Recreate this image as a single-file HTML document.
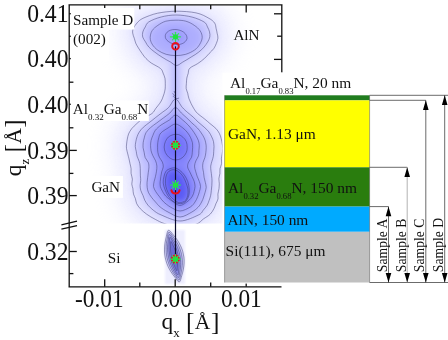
<!DOCTYPE html>
<html><head><meta charset="utf-8"><title>RSM figure</title>
<style>html,body{margin:0;padding:0;background:#fff}svg{display:block}</style></head>
<body>
<svg width="448" height="340" viewBox="0 0 448 340">
<defs>
<filter id="b8" x="-30%" y="-30%" width="160%" height="160%"><feGaussianBlur stdDeviation="7"/></filter>
<filter id="b12" x="-40%" y="-40%" width="180%" height="180%"><feGaussianBlur stdDeviation="10"/></filter>
<filter id="b2" x="-30%" y="-30%" width="160%" height="160%"><feGaussianBlur stdDeviation="3"/></filter>
<filter id="b1" x="-30%" y="-30%" width="160%" height="160%"><feGaussianBlur stdDeviation="1.2"/></filter>
<clipPath id="cpu"><rect x="69" y="5.4" width="212.5" height="218.1"/></clipPath>
<clipPath id="cpl"><rect x="69" y="229" width="212.5" height="57"/></clipPath>
</defs>
<rect width="448" height="340" fill="#fff"/>
<g clip-path="url(#cpu)">
<path d="M176.0 11.2C182.4 11.2 190.7 11.7 196.1 12.9C201.6 14.0 205.7 16.5 208.7 18.2C211.8 19.8 213.4 21.3 214.6 23.0C215.8 24.7 215.7 26.7 216.1 28.5C216.6 30.3 216.9 32.0 217.2 33.6C217.5 35.2 218.1 36.6 217.9 38.2C217.8 39.8 217.0 41.6 216.4 43.3C215.7 45.0 215.0 46.7 213.9 48.4C212.7 50.1 210.8 51.8 209.2 53.4C207.6 55.1 206.4 56.7 204.5 58.4C202.6 60.1 200.2 61.9 197.8 63.5C195.3 65.2 191.3 66.6 189.7 68.3C188.1 69.9 188.6 71.8 188.2 73.4C187.7 75.1 187.1 76.4 186.8 78.1C186.5 79.8 186.5 81.8 186.4 83.5C186.3 85.3 185.9 87.0 186.2 88.6C186.4 90.2 187.2 91.5 187.7 93.2C188.1 94.9 188.3 96.8 188.9 98.5C189.5 100.2 190.2 101.7 191.0 103.4C191.9 105.1 192.9 107.1 193.9 108.7C195.0 110.4 195.6 111.6 197.4 113.3C199.2 115.0 202.4 117.2 204.5 118.9C206.6 120.6 208.1 122.0 210.0 123.6C211.9 125.2 214.3 126.9 215.9 128.5C217.5 130.2 218.5 131.8 219.4 133.5C220.3 135.2 220.8 137.1 221.2 138.7C221.7 140.4 221.9 142.0 222.2 143.6C222.4 145.2 222.8 146.7 222.8 148.4C222.8 150.1 222.4 152.2 222.2 153.9C222.0 155.6 221.5 156.9 221.4 158.6C221.3 160.2 221.8 161.9 221.6 163.6C221.3 165.3 220.3 167.1 220.0 168.7C219.7 170.4 220.1 171.9 219.9 173.5C219.7 175.2 219.0 177.0 218.9 178.7C218.8 180.4 219.3 182.2 219.3 183.8C219.3 185.5 219.2 186.9 219.0 188.6C218.8 190.3 218.1 192.3 217.9 194.0C217.7 195.7 218.3 197.3 218.0 198.9C217.7 200.5 216.6 202.0 215.9 203.7C215.3 205.3 214.8 207.0 213.9 208.7C212.9 210.5 211.9 212.5 210.2 214.2C208.5 215.9 205.9 217.2 203.6 218.8C201.3 220.5 200.2 222.6 196.4 224.1C192.7 225.6 186.3 228.1 181.0 228.0C175.7 227.9 169.0 225.1 164.7 223.7C160.4 222.3 158.2 220.9 155.2 219.3C152.2 217.8 149.3 216.0 146.8 214.3C144.4 212.5 142.1 210.6 140.4 208.8C138.7 207.0 137.5 205.3 136.7 203.6C135.9 201.9 135.9 200.2 135.4 198.6C134.9 197.0 133.9 195.7 133.5 194.1C133.1 192.4 133.1 190.3 132.9 188.6C132.6 187.0 131.9 185.6 131.8 184.1C131.7 182.5 132.5 180.9 132.4 179.2C132.3 177.4 131.3 175.2 131.1 173.5C130.8 171.8 131.3 170.5 131.1 168.8C130.9 167.2 130.4 165.2 130.0 163.6C129.7 161.9 129.3 160.4 129.0 158.8C128.6 157.2 128.2 155.8 127.8 154.1C127.4 152.3 126.7 150.1 126.5 148.5C126.3 146.8 126.4 145.6 126.6 144.0C126.7 142.5 127.0 140.7 127.3 139.0C127.7 137.3 127.9 135.7 128.6 133.9C129.4 132.2 130.3 130.4 131.7 128.7C133.1 127.0 135.0 125.2 136.9 123.5C138.8 121.8 140.6 120.1 143.1 118.5C145.6 116.8 149.8 115.2 152.0 113.5C154.1 111.9 154.5 110.1 155.8 108.4C157.1 106.7 158.7 104.9 159.8 103.3C160.9 101.7 161.6 100.4 162.3 98.8C163.0 97.2 163.6 95.4 164.1 93.7C164.5 92.0 165.0 90.4 165.2 88.8C165.4 87.1 165.3 85.5 165.3 83.7C165.3 82.0 165.3 80.2 165.0 78.4C164.6 76.7 163.9 74.8 163.1 73.1C162.4 71.4 162.5 70.1 160.5 68.5C158.6 66.8 153.8 64.7 151.4 63.1C149.0 61.4 147.6 60.1 146.0 58.5C144.5 57.0 143.4 55.4 142.2 53.6C140.9 51.9 139.6 49.8 138.5 48.1C137.5 46.4 136.5 44.9 135.8 43.3C135.1 41.7 134.9 40.0 134.3 38.3C133.8 36.6 132.8 34.7 132.7 33.1C132.5 31.5 132.6 30.2 133.3 28.5C134.1 26.8 135.5 24.6 137.1 22.9C138.7 21.2 139.6 19.9 143.0 18.3C146.5 16.7 152.1 14.4 157.6 13.2C163.1 12.1 169.6 11.3 176.0 11.2Z" fill="#e2e2ff" stroke="#e2e2ff" stroke-width="42" stroke-linejoin="round" filter="url(#b12)" opacity="0.38"/>
<path d="M176.0 11.2C182.4 11.2 190.7 11.7 196.1 12.9C201.6 14.0 205.7 16.5 208.7 18.2C211.8 19.8 213.4 21.3 214.6 23.0C215.8 24.7 215.7 26.7 216.1 28.5C216.6 30.3 216.9 32.0 217.2 33.6C217.5 35.2 218.1 36.6 217.9 38.2C217.8 39.8 217.0 41.6 216.4 43.3C215.7 45.0 215.0 46.7 213.9 48.4C212.7 50.1 210.8 51.8 209.2 53.4C207.6 55.1 206.4 56.7 204.5 58.4C202.6 60.1 200.2 61.9 197.8 63.5C195.3 65.2 191.3 66.6 189.7 68.3C188.1 69.9 188.6 71.8 188.2 73.4C187.7 75.1 187.1 76.4 186.8 78.1C186.5 79.8 186.5 81.8 186.4 83.5C186.3 85.3 185.9 87.0 186.2 88.6C186.4 90.2 187.2 91.5 187.7 93.2C188.1 94.9 188.3 96.8 188.9 98.5C189.5 100.2 190.2 101.7 191.0 103.4C191.9 105.1 192.9 107.1 193.9 108.7C195.0 110.4 195.6 111.6 197.4 113.3C199.2 115.0 202.4 117.2 204.5 118.9C206.6 120.6 208.1 122.0 210.0 123.6C211.9 125.2 214.3 126.9 215.9 128.5C217.5 130.2 218.5 131.8 219.4 133.5C220.3 135.2 220.8 137.1 221.2 138.7C221.7 140.4 221.9 142.0 222.2 143.6C222.4 145.2 222.8 146.7 222.8 148.4C222.8 150.1 222.4 152.2 222.2 153.9C222.0 155.6 221.5 156.9 221.4 158.6C221.3 160.2 221.8 161.9 221.6 163.6C221.3 165.3 220.3 167.1 220.0 168.7C219.7 170.4 220.1 171.9 219.9 173.5C219.7 175.2 219.0 177.0 218.9 178.7C218.8 180.4 219.3 182.2 219.3 183.8C219.3 185.5 219.2 186.9 219.0 188.6C218.8 190.3 218.1 192.3 217.9 194.0C217.7 195.7 218.3 197.3 218.0 198.9C217.7 200.5 216.6 202.0 215.9 203.7C215.3 205.3 214.8 207.0 213.9 208.7C212.9 210.5 211.9 212.5 210.2 214.2C208.5 215.9 205.9 217.2 203.6 218.8C201.3 220.5 200.2 222.6 196.4 224.1C192.7 225.6 186.3 228.1 181.0 228.0C175.7 227.9 169.0 225.1 164.7 223.7C160.4 222.3 158.2 220.9 155.2 219.3C152.2 217.8 149.3 216.0 146.8 214.3C144.4 212.5 142.1 210.6 140.4 208.8C138.7 207.0 137.5 205.3 136.7 203.6C135.9 201.9 135.9 200.2 135.4 198.6C134.9 197.0 133.9 195.7 133.5 194.1C133.1 192.4 133.1 190.3 132.9 188.6C132.6 187.0 131.9 185.6 131.8 184.1C131.7 182.5 132.5 180.9 132.4 179.2C132.3 177.4 131.3 175.2 131.1 173.5C130.8 171.8 131.3 170.5 131.1 168.8C130.9 167.2 130.4 165.2 130.0 163.6C129.7 161.9 129.3 160.4 129.0 158.8C128.6 157.2 128.2 155.8 127.8 154.1C127.4 152.3 126.7 150.1 126.5 148.5C126.3 146.8 126.4 145.6 126.6 144.0C126.7 142.5 127.0 140.7 127.3 139.0C127.7 137.3 127.9 135.7 128.6 133.9C129.4 132.2 130.3 130.4 131.7 128.7C133.1 127.0 135.0 125.2 136.9 123.5C138.8 121.8 140.6 120.1 143.1 118.5C145.6 116.8 149.8 115.2 152.0 113.5C154.1 111.9 154.5 110.1 155.8 108.4C157.1 106.7 158.7 104.9 159.8 103.3C160.9 101.7 161.6 100.4 162.3 98.8C163.0 97.2 163.6 95.4 164.1 93.7C164.5 92.0 165.0 90.4 165.2 88.8C165.4 87.1 165.3 85.5 165.3 83.7C165.3 82.0 165.3 80.2 165.0 78.4C164.6 76.7 163.9 74.8 163.1 73.1C162.4 71.4 162.5 70.1 160.5 68.5C158.6 66.8 153.8 64.7 151.4 63.1C149.0 61.4 147.6 60.1 146.0 58.5C144.5 57.0 143.4 55.4 142.2 53.6C140.9 51.9 139.6 49.8 138.5 48.1C137.5 46.4 136.5 44.9 135.8 43.3C135.1 41.7 134.9 40.0 134.3 38.3C133.8 36.6 132.8 34.7 132.7 33.1C132.5 31.5 132.6 30.2 133.3 28.5C134.1 26.8 135.5 24.6 137.1 22.9C138.7 21.2 139.6 19.9 143.0 18.3C146.5 16.7 152.1 14.4 157.6 13.2C163.1 12.1 169.6 11.3 176.0 11.2Z" fill="#dadafe" stroke="#dadafe" stroke-width="16" stroke-linejoin="round" filter="url(#b8)" opacity="0.45"/>
<g filter="url(#b2)">
<path d="M176.0 11.2C182.4 11.2 190.7 11.7 196.1 12.9C201.6 14.0 205.7 16.5 208.7 18.2C211.8 19.8 213.4 21.3 214.6 23.0C215.8 24.7 215.7 26.7 216.1 28.5C216.6 30.3 216.9 32.0 217.2 33.6C217.5 35.2 218.1 36.6 217.9 38.2C217.8 39.8 217.0 41.6 216.4 43.3C215.7 45.0 215.0 46.7 213.9 48.4C212.7 50.1 210.8 51.8 209.2 53.4C207.6 55.1 206.4 56.7 204.5 58.4C202.6 60.1 200.2 61.9 197.8 63.5C195.3 65.2 191.3 66.6 189.7 68.3C188.1 69.9 188.6 71.8 188.2 73.4C187.7 75.1 187.1 76.4 186.8 78.1C186.5 79.8 186.5 81.8 186.4 83.5C186.3 85.3 185.9 87.0 186.2 88.6C186.4 90.2 187.2 91.5 187.7 93.2C188.1 94.9 188.3 96.8 188.9 98.5C189.5 100.2 190.2 101.7 191.0 103.4C191.9 105.1 192.9 107.1 193.9 108.7C195.0 110.4 195.6 111.6 197.4 113.3C199.2 115.0 202.4 117.2 204.5 118.9C206.6 120.6 208.1 122.0 210.0 123.6C211.9 125.2 214.3 126.9 215.9 128.5C217.5 130.2 218.5 131.8 219.4 133.5C220.3 135.2 220.8 137.1 221.2 138.7C221.7 140.4 221.9 142.0 222.2 143.6C222.4 145.2 222.8 146.7 222.8 148.4C222.8 150.1 222.4 152.2 222.2 153.9C222.0 155.6 221.5 156.9 221.4 158.6C221.3 160.2 221.8 161.9 221.6 163.6C221.3 165.3 220.3 167.1 220.0 168.7C219.7 170.4 220.1 171.9 219.9 173.5C219.7 175.2 219.0 177.0 218.9 178.7C218.8 180.4 219.3 182.2 219.3 183.8C219.3 185.5 219.2 186.9 219.0 188.6C218.8 190.3 218.1 192.3 217.9 194.0C217.7 195.7 218.3 197.3 218.0 198.9C217.7 200.5 216.6 202.0 215.9 203.7C215.3 205.3 214.8 207.0 213.9 208.7C212.9 210.5 211.9 212.5 210.2 214.2C208.5 215.9 205.9 217.2 203.6 218.8C201.3 220.5 200.2 222.6 196.4 224.1C192.7 225.6 186.3 228.1 181.0 228.0C175.7 227.9 169.0 225.1 164.7 223.7C160.4 222.3 158.2 220.9 155.2 219.3C152.2 217.8 149.3 216.0 146.8 214.3C144.4 212.5 142.1 210.6 140.4 208.8C138.7 207.0 137.5 205.3 136.7 203.6C135.9 201.9 135.9 200.2 135.4 198.6C134.9 197.0 133.9 195.7 133.5 194.1C133.1 192.4 133.1 190.3 132.9 188.6C132.6 187.0 131.9 185.6 131.8 184.1C131.7 182.5 132.5 180.9 132.4 179.2C132.3 177.4 131.3 175.2 131.1 173.5C130.8 171.8 131.3 170.5 131.1 168.8C130.9 167.2 130.4 165.2 130.0 163.6C129.7 161.9 129.3 160.4 129.0 158.8C128.6 157.2 128.2 155.8 127.8 154.1C127.4 152.3 126.7 150.1 126.5 148.5C126.3 146.8 126.4 145.6 126.6 144.0C126.7 142.5 127.0 140.7 127.3 139.0C127.7 137.3 127.9 135.7 128.6 133.9C129.4 132.2 130.3 130.4 131.7 128.7C133.1 127.0 135.0 125.2 136.9 123.5C138.8 121.8 140.6 120.1 143.1 118.5C145.6 116.8 149.8 115.2 152.0 113.5C154.1 111.9 154.5 110.1 155.8 108.4C157.1 106.7 158.7 104.9 159.8 103.3C160.9 101.7 161.6 100.4 162.3 98.8C163.0 97.2 163.6 95.4 164.1 93.7C164.5 92.0 165.0 90.4 165.2 88.8C165.4 87.1 165.3 85.5 165.3 83.7C165.3 82.0 165.3 80.2 165.0 78.4C164.6 76.7 163.9 74.8 163.1 73.1C162.4 71.4 162.5 70.1 160.5 68.5C158.6 66.8 153.8 64.7 151.4 63.1C149.0 61.4 147.6 60.1 146.0 58.5C144.5 57.0 143.4 55.4 142.2 53.6C140.9 51.9 139.6 49.8 138.5 48.1C137.5 46.4 136.5 44.9 135.8 43.3C135.1 41.7 134.9 40.0 134.3 38.3C133.8 36.6 132.8 34.7 132.7 33.1C132.5 31.5 132.6 30.2 133.3 28.5C134.1 26.8 135.5 24.6 137.1 22.9C138.7 21.2 139.6 19.9 143.0 18.3C146.5 16.7 152.1 14.4 157.6 13.2C163.1 12.1 169.6 11.3 176.0 11.2Z" fill="#dbdbfe"/>
<path d="M175.5 52V112" stroke="#bcbcfd" stroke-width="9" stroke-linecap="round" fill="none"/>
<path d="M176.0 15.0C181.2 15.0 187.5 15.9 192.1 17.1C196.8 18.3 201.5 20.4 204.1 22.0C206.7 23.6 206.6 25.3 207.5 27.0C208.4 28.6 209.1 30.2 209.5 31.9C209.9 33.5 210.1 35.3 209.8 36.9C209.5 38.6 208.6 40.2 207.7 41.9C206.7 43.6 205.5 45.3 204.0 47.1C202.5 48.8 200.9 50.5 198.7 52.1C196.6 53.8 193.9 55.4 191.2 57.0C188.6 58.7 185.2 60.7 182.7 62.1C180.3 63.5 178.6 65.5 176.5 65.5C174.4 65.5 172.7 63.3 170.3 61.9C167.8 60.5 164.5 58.8 162.0 57.1C159.4 55.5 157.0 53.8 154.8 52.1C152.6 50.5 150.4 48.8 148.9 47.1C147.3 45.4 146.5 43.6 145.5 41.9C144.5 40.2 143.2 38.6 142.7 37.0C142.3 35.3 142.4 33.6 142.8 32.0C143.2 30.3 144.3 28.6 145.3 26.9C146.3 25.3 146.1 23.6 148.8 21.9C151.4 20.3 156.6 18.1 161.2 17.0C165.7 15.8 170.8 15.0 176.0 15.0Z" fill="#c2c2fe"/>
<path d="M175.5 99.0C177.8 99.0 180.2 105.2 182.3 107.4C184.3 109.7 185.7 110.8 187.5 112.4C189.4 114.0 191.5 115.6 193.3 117.2C195.0 118.8 196.3 120.4 198.1 122.0C199.9 123.7 202.3 125.4 204.1 127.1C205.9 128.7 207.6 130.3 208.9 131.9C210.1 133.5 210.9 135.2 211.7 136.9C212.5 138.5 213.1 140.0 213.5 141.7C213.8 143.3 213.9 145.0 214.0 146.7C214.0 148.3 213.8 150.0 213.7 151.6C213.6 153.2 213.6 154.6 213.3 156.3C213.0 157.9 212.4 159.7 211.9 161.3C211.5 163.0 210.8 164.5 210.7 166.1C210.5 167.7 210.9 169.5 211.0 171.2C211.2 172.8 211.5 174.2 211.6 175.9C211.8 177.5 212.0 179.3 212.0 180.9C212.0 182.5 211.9 184.0 211.8 185.7C211.7 187.3 211.5 189.0 211.3 190.7C211.1 192.4 211.0 194.0 210.6 195.6C210.3 197.2 209.7 198.8 209.1 200.4C208.5 202.0 208.1 203.6 207.1 205.3C206.1 206.9 204.7 208.5 203.3 210.1C201.9 211.7 202.5 213.0 198.6 214.9C194.7 216.7 186.3 221.0 180.0 221.0C173.7 221.0 165.5 216.7 161.1 214.9C156.6 213.1 155.5 211.8 153.3 210.2C151.1 208.5 149.4 206.8 148.0 205.2C146.6 203.5 145.7 201.9 144.8 200.3C144.0 198.7 143.8 197.3 143.1 195.6C142.4 193.9 141.2 192.1 140.8 190.4C140.3 188.7 140.1 187.2 140.1 185.5C140.1 183.9 140.7 182.2 140.7 180.6C140.8 179.0 140.5 177.5 140.4 175.9C140.4 174.3 140.4 172.7 140.3 171.0C140.3 169.4 140.3 167.7 140.1 166.0C140.0 164.4 139.7 163.0 139.2 161.4C138.7 159.7 137.6 157.8 137.1 156.2C136.6 154.5 136.6 153.2 136.3 151.6C136.0 150.0 135.4 148.3 135.3 146.7C135.2 145.1 135.5 143.5 135.8 141.8C136.1 140.2 136.5 138.3 137.1 136.7C137.7 135.1 138.2 133.6 139.3 132.0C140.3 130.5 141.7 128.8 143.4 127.2C145.2 125.5 147.9 123.7 149.9 122.1C152.0 120.5 153.7 119.1 155.8 117.4C157.8 115.8 160.1 114.1 162.3 112.4C164.5 110.7 166.5 109.7 168.7 107.4C170.9 105.2 173.2 99.0 175.5 99.0Z" fill="#c2c2fe"/>
<path d="M202.2 37.4C202.1 39.7 201.0 42.1 199.8 44.2C198.5 46.3 197.0 48.4 194.6 50.0C192.3 51.7 188.8 53.3 185.7 54.3C182.5 55.2 179.0 55.6 175.8 55.6C172.5 55.6 169.1 55.1 166.2 54.3C163.2 53.4 160.2 51.9 157.9 50.3C155.6 48.6 153.4 46.3 152.2 44.2C150.9 42.1 150.2 40.0 150.2 37.7C150.2 35.5 150.8 32.7 152.1 30.7C153.4 28.6 155.5 27.0 157.8 25.4C160.0 23.9 162.7 22.1 165.8 21.2C168.8 20.4 172.7 20.2 176.0 20.2C179.4 20.2 182.8 20.3 185.8 21.2C188.8 22.0 191.8 23.6 194.2 25.3C196.6 26.9 198.9 28.8 200.2 30.9C201.5 32.9 202.2 35.2 202.2 37.4Z" fill="#aeaefe"/>
<path d="M175.5 107.5C177.4 107.5 179.4 111.2 181.3 113.0C183.2 114.7 185.0 116.4 186.8 118.0C188.5 119.7 190.1 121.4 191.9 123.0C193.6 124.7 195.8 126.2 197.3 127.9C198.9 129.5 200.0 131.3 201.2 132.9C202.3 134.5 203.3 136.1 204.1 137.8C204.9 139.4 205.4 141.1 205.7 142.8C206.1 144.4 206.2 146.0 206.2 147.6C206.2 149.3 206.0 151.1 205.8 152.7C205.6 154.4 205.4 155.8 204.9 157.5C204.5 159.1 203.4 160.9 203.0 162.6C202.6 164.3 202.6 166.0 202.7 167.6C202.7 169.2 203.3 170.7 203.5 172.3C203.8 173.9 203.8 175.6 204.1 177.3C204.4 179.0 205.0 180.7 205.3 182.4C205.7 184.0 206.2 185.7 206.2 187.4C206.1 189.0 205.5 190.7 205.1 192.3C204.7 193.9 204.2 195.5 203.6 197.1C203.0 198.7 202.6 200.3 201.6 202.0C200.7 203.6 199.8 205.5 198.1 207.2C196.5 208.8 194.9 210.3 191.9 212.0C188.9 213.6 184.0 217.0 180.0 217.0C176.0 217.0 171.3 213.6 168.0 212.0C164.7 210.3 162.2 208.6 160.1 206.9C158.0 205.3 157.0 203.6 155.5 202.0C154.1 200.4 152.7 198.9 151.5 197.3C150.3 195.6 149.1 193.9 148.4 192.3C147.7 190.6 147.4 189.1 147.2 187.4C147.0 185.7 147.0 183.9 147.1 182.2C147.2 180.6 147.5 179.0 147.7 177.4C147.9 175.7 148.0 174.0 148.3 172.3C148.5 170.7 148.9 169.2 148.9 167.5C148.9 165.9 149.0 164.2 148.3 162.5C147.7 160.9 145.9 159.3 145.2 157.6C144.5 156.0 144.6 154.2 144.2 152.5C143.9 150.8 143.3 149.3 143.1 147.7C143.0 146.1 143.0 144.3 143.2 142.7C143.4 141.1 143.8 139.5 144.3 137.8C144.7 136.2 145.0 134.4 146.0 132.7C147.0 131.0 148.6 129.5 150.3 127.8C152.1 126.2 154.6 124.5 156.8 122.9C159.0 121.3 161.3 119.6 163.5 117.9C165.7 116.3 167.9 114.7 169.9 113.0C171.9 111.2 173.6 107.5 175.5 107.5Z" fill="#aeaefe"/>
<path d="M187.0 38.6C186.9 39.6 186.1 40.7 185.3 41.5C184.5 42.4 183.4 43.2 182.1 43.7C180.8 44.3 179.0 44.6 177.5 44.6C175.9 44.6 174.4 44.3 173.0 43.9C171.5 43.4 169.8 42.5 168.7 41.7C167.5 40.9 166.5 39.9 165.9 38.9C165.4 37.9 165.1 36.7 165.3 35.6C165.4 34.5 166.2 33.2 167.1 32.2C168.0 31.3 169.2 30.7 170.5 30.2C171.8 29.7 173.4 29.5 174.9 29.5C176.4 29.5 178.1 29.7 179.5 30.2C181.0 30.6 182.7 31.4 183.8 32.3C184.9 33.1 185.7 34.2 186.3 35.2C186.8 36.3 187.2 37.5 187.0 38.6Z" fill="#9b9bfd"/>
<path d="M175.5 115.0C177.7 115.0 180.4 118.2 182.5 119.9C184.6 121.6 186.6 123.4 188.2 125.1C189.8 126.8 191.1 128.5 192.4 130.2C193.7 131.9 194.8 133.7 195.8 135.4C196.8 137.2 197.8 138.9 198.4 140.6C199.0 142.3 199.2 143.9 199.3 145.5C199.3 147.2 199.0 148.9 198.9 150.6C198.7 152.3 199.0 154.2 198.5 155.9C198.0 157.6 196.5 159.1 195.9 160.8C195.2 162.6 194.5 164.4 194.5 166.1C194.4 167.9 195.2 169.6 195.6 171.3C196.1 172.9 196.5 174.5 197.1 176.2C197.7 177.9 198.7 179.6 199.2 181.3C199.8 183.0 200.5 184.8 200.5 186.5C200.5 188.3 199.8 189.9 199.4 191.6C198.9 193.3 198.5 194.9 197.7 196.6C197.0 198.4 196.2 200.3 195.0 202.0C193.8 203.7 192.8 205.5 190.3 207.0C187.8 208.5 183.3 211.0 180.0 211.0C176.7 211.0 173.0 208.4 170.2 206.9C167.5 205.3 165.4 203.5 163.6 201.8C161.8 200.2 160.8 198.4 159.5 196.7C158.2 195.0 156.7 193.3 155.8 191.7C154.8 190.0 153.8 188.3 153.5 186.6C153.3 184.9 153.9 183.0 154.2 181.3C154.6 179.6 155.2 178.0 155.5 176.3C155.9 174.6 156.3 172.9 156.5 171.2C156.7 169.5 157.0 167.9 156.9 166.1C156.8 164.4 156.3 162.6 155.6 160.8C154.9 159.1 153.6 157.4 152.9 155.7C152.1 154.0 151.5 152.5 151.1 150.8C150.8 149.1 150.6 147.4 150.6 145.6C150.6 143.9 150.7 142.1 151.1 140.4C151.5 138.7 152.2 137.1 152.9 135.4C153.6 133.7 154.1 131.9 155.4 130.2C156.8 128.5 158.8 126.7 161.1 125.0C163.4 123.3 166.9 121.7 169.3 120.1C171.7 118.4 173.3 115.0 175.5 115.0Z" fill="#9b9bfd"/>
<path d="M175.5 124.0C178.0 124.0 181.0 126.6 183.0 128.1C185.0 129.6 186.4 131.3 187.7 132.9C188.9 134.5 189.8 136.0 190.6 137.7C191.3 139.3 192.0 141.0 192.4 142.6C192.7 144.3 192.6 145.9 192.6 147.5C192.6 149.1 192.5 150.7 192.3 152.3C192.1 153.9 192.1 155.7 191.5 157.3C190.8 158.9 189.2 160.4 188.6 162.1C187.9 163.7 187.4 165.3 187.6 166.9C187.8 168.5 188.9 170.1 189.7 171.7C190.4 173.3 191.3 175.0 192.0 176.6C192.8 178.2 193.7 179.9 194.2 181.5C194.7 183.2 195.0 184.8 195.0 186.4C195.0 188.0 194.5 189.7 194.1 191.3C193.7 192.9 193.4 194.5 192.4 196.1C191.4 197.7 190.2 199.4 188.1 201.0C186.0 202.5 182.7 205.5 180.0 205.5C177.3 205.5 174.3 202.5 171.9 200.9C169.5 199.3 167.3 197.7 165.8 196.1C164.2 194.5 163.4 192.9 162.5 191.3C161.6 189.7 160.7 187.9 160.3 186.3C159.9 184.7 160.1 183.2 160.2 181.6C160.3 180.0 160.6 178.3 160.8 176.7C161.1 175.0 161.3 173.4 161.7 171.8C162.1 170.2 163.1 168.6 163.3 166.9C163.4 165.3 163.0 163.7 162.4 162.1C161.7 160.4 160.1 158.8 159.4 157.2C158.6 155.6 158.2 154.0 157.9 152.4C157.6 150.8 157.6 149.1 157.6 147.5C157.6 145.9 157.6 144.2 157.8 142.6C158.0 141.0 158.3 139.3 158.8 137.7C159.3 136.1 159.3 134.6 160.9 133.0C162.4 131.3 165.6 129.5 168.0 128.0C170.5 126.5 173.0 124.0 175.5 124.0Z" fill="#8686fc"/>
<path d="M187.2 147.4C187.2 149.2 187.0 151.1 186.2 152.7C185.5 154.3 184.2 156.1 182.9 157.2C181.6 158.4 180.0 159.2 178.4 159.6C176.8 160.0 174.7 160.0 173.0 159.6C171.4 159.1 170.0 158.2 168.7 157.1C167.5 155.9 166.2 154.3 165.4 152.6C164.7 151.0 164.2 148.9 164.2 147.1C164.2 145.2 164.7 143.2 165.4 141.5C166.1 139.8 167.2 138.2 168.4 137.0C169.7 135.9 171.5 135.1 173.1 134.7C174.7 134.3 176.5 134.1 178.2 134.5C179.8 134.9 181.6 136.0 182.9 137.2C184.3 138.3 185.5 139.8 186.2 141.5C186.9 143.2 187.2 145.5 187.2 147.4Z" fill="#7373fa"/>
<path d="M187.8 181.7C188.6 184.0 189.0 186.7 189.2 189.0C189.4 191.2 189.3 193.2 188.9 195.1C188.4 197.0 187.7 198.9 186.7 200.3C185.6 201.6 184.3 202.8 182.8 203.3C181.3 203.8 179.4 203.8 177.7 203.4C176.0 203.1 174.5 202.3 172.9 201.1C171.4 199.9 169.7 198.3 168.4 196.4C167.1 194.6 166.0 192.2 165.2 190.0C164.3 187.7 163.4 185.2 163.2 182.9C163.0 180.7 163.5 178.5 164.0 176.6C164.4 174.6 165.0 172.5 166.1 171.1C167.1 169.8 168.6 169.2 170.1 168.7C171.6 168.1 173.3 167.6 175.0 167.9C176.6 168.2 178.2 169.2 179.8 170.4C181.3 171.6 183.1 173.2 184.4 175.1C185.7 177.0 187.0 179.4 187.8 181.7Z" fill="#7373fa"/>
<path d="M186.0 182.8C186.7 184.8 187.6 187.0 187.9 189.0C188.2 191.1 188.1 193.3 187.8 195.2C187.4 197.0 186.7 198.8 185.9 200.0C185.0 201.2 184.0 201.7 182.7 202.1C181.4 202.5 179.7 202.9 178.3 202.5C176.9 202.1 175.6 201.0 174.2 199.9C172.8 198.8 171.1 197.5 169.9 195.8C168.7 194.1 167.6 191.7 166.8 189.6C166.1 187.6 165.6 185.4 165.4 183.3C165.3 181.2 165.5 178.8 165.9 177.1C166.2 175.3 166.8 173.9 167.6 172.7C168.5 171.6 169.6 170.5 170.9 170.1C172.1 169.6 173.7 169.5 175.0 169.9C176.4 170.2 177.8 171.0 179.2 172.2C180.6 173.3 182.2 175.0 183.3 176.8C184.5 178.6 185.2 180.8 186.0 182.8Z" fill="#5b5bf4"/>
</g>
<g fill="none" stroke="#34346a" stroke-width="0.6" stroke-opacity="0.8">
<path d="M176.0 11.2C182.4 11.2 190.7 11.7 196.1 12.9C201.6 14.0 205.7 16.5 208.7 18.2C211.8 19.8 213.4 21.3 214.6 23.0C215.8 24.7 215.7 26.7 216.1 28.5C216.6 30.3 216.9 32.0 217.2 33.6C217.5 35.2 218.1 36.6 217.9 38.2C217.8 39.8 217.0 41.6 216.4 43.3C215.7 45.0 215.0 46.7 213.9 48.4C212.7 50.1 210.8 51.8 209.2 53.4C207.6 55.1 206.4 56.7 204.5 58.4C202.6 60.1 200.2 61.9 197.8 63.5C195.3 65.2 191.3 66.6 189.7 68.3C188.1 69.9 188.6 71.8 188.2 73.4C187.7 75.1 187.1 76.4 186.8 78.1C186.5 79.8 186.5 81.8 186.4 83.5C186.3 85.3 185.9 87.0 186.2 88.6C186.4 90.2 187.2 91.5 187.7 93.2C188.1 94.9 188.3 96.8 188.9 98.5C189.5 100.2 190.2 101.7 191.0 103.4C191.9 105.1 192.9 107.1 193.9 108.7C195.0 110.4 195.6 111.6 197.4 113.3C199.2 115.0 202.4 117.2 204.5 118.9C206.6 120.6 208.1 122.0 210.0 123.6C211.9 125.2 214.3 126.9 215.9 128.5C217.5 130.2 218.5 131.8 219.4 133.5C220.3 135.2 220.8 137.1 221.2 138.7C221.7 140.4 221.9 142.0 222.2 143.6C222.4 145.2 222.8 146.7 222.8 148.4C222.8 150.1 222.4 152.2 222.2 153.9C222.0 155.6 221.5 156.9 221.4 158.6C221.3 160.2 221.8 161.9 221.6 163.6C221.3 165.3 220.3 167.1 220.0 168.7C219.7 170.4 220.1 171.9 219.9 173.5C219.7 175.2 219.0 177.0 218.9 178.7C218.8 180.4 219.3 182.2 219.3 183.8C219.3 185.5 219.2 186.9 219.0 188.6C218.8 190.3 218.1 192.3 217.9 194.0C217.7 195.7 218.3 197.3 218.0 198.9C217.7 200.5 216.6 202.0 215.9 203.7C215.3 205.3 214.8 207.0 213.9 208.7C212.9 210.5 211.9 212.5 210.2 214.2C208.5 215.9 205.9 217.2 203.6 218.8C201.3 220.5 200.2 222.6 196.4 224.1C192.7 225.6 186.3 228.1 181.0 228.0C175.7 227.9 169.0 225.1 164.7 223.7C160.4 222.3 158.2 220.9 155.2 219.3C152.2 217.8 149.3 216.0 146.8 214.3C144.4 212.5 142.1 210.6 140.4 208.8C138.7 207.0 137.5 205.3 136.7 203.6C135.9 201.9 135.9 200.2 135.4 198.6C134.9 197.0 133.9 195.7 133.5 194.1C133.1 192.4 133.1 190.3 132.9 188.6C132.6 187.0 131.9 185.6 131.8 184.1C131.7 182.5 132.5 180.9 132.4 179.2C132.3 177.4 131.3 175.2 131.1 173.5C130.8 171.8 131.3 170.5 131.1 168.8C130.9 167.2 130.4 165.2 130.0 163.6C129.7 161.9 129.3 160.4 129.0 158.8C128.6 157.2 128.2 155.8 127.8 154.1C127.4 152.3 126.7 150.1 126.5 148.5C126.3 146.8 126.4 145.6 126.6 144.0C126.7 142.5 127.0 140.7 127.3 139.0C127.7 137.3 127.9 135.7 128.6 133.9C129.4 132.2 130.3 130.4 131.7 128.7C133.1 127.0 135.0 125.2 136.9 123.5C138.8 121.8 140.6 120.1 143.1 118.5C145.6 116.8 149.8 115.2 152.0 113.5C154.1 111.9 154.5 110.1 155.8 108.4C157.1 106.7 158.7 104.9 159.8 103.3C160.9 101.7 161.6 100.4 162.3 98.8C163.0 97.2 163.6 95.4 164.1 93.7C164.5 92.0 165.0 90.4 165.2 88.8C165.4 87.1 165.3 85.5 165.3 83.7C165.3 82.0 165.3 80.2 165.0 78.4C164.6 76.7 163.9 74.8 163.1 73.1C162.4 71.4 162.5 70.1 160.5 68.5C158.6 66.8 153.8 64.7 151.4 63.1C149.0 61.4 147.6 60.1 146.0 58.5C144.5 57.0 143.4 55.4 142.2 53.6C140.9 51.9 139.6 49.8 138.5 48.1C137.5 46.4 136.5 44.9 135.8 43.3C135.1 41.7 134.9 40.0 134.3 38.3C133.8 36.6 132.8 34.7 132.7 33.1C132.5 31.5 132.6 30.2 133.3 28.5C134.1 26.8 135.5 24.6 137.1 22.9C138.7 21.2 139.6 19.9 143.0 18.3C146.5 16.7 152.1 14.4 157.6 13.2C163.1 12.1 169.6 11.3 176.0 11.2Z"/>
<path d="M176.0 15.0C181.2 15.0 187.5 15.9 192.1 17.1C196.8 18.3 201.5 20.4 204.1 22.0C206.7 23.6 206.6 25.3 207.5 27.0C208.4 28.6 209.1 30.2 209.5 31.9C209.9 33.5 210.1 35.3 209.8 36.9C209.5 38.6 208.6 40.2 207.7 41.9C206.7 43.6 205.5 45.3 204.0 47.1C202.5 48.8 200.9 50.5 198.7 52.1C196.6 53.8 193.9 55.4 191.2 57.0C188.6 58.7 185.2 60.7 182.7 62.1C180.3 63.5 178.6 65.5 176.5 65.5C174.4 65.5 172.7 63.3 170.3 61.9C167.8 60.5 164.5 58.8 162.0 57.1C159.4 55.5 157.0 53.8 154.8 52.1C152.6 50.5 150.4 48.8 148.9 47.1C147.3 45.4 146.5 43.6 145.5 41.9C144.5 40.2 143.2 38.6 142.7 37.0C142.3 35.3 142.4 33.6 142.8 32.0C143.2 30.3 144.3 28.6 145.3 26.9C146.3 25.3 146.1 23.6 148.8 21.9C151.4 20.3 156.6 18.1 161.2 17.0C165.7 15.8 170.8 15.0 176.0 15.0Z"/>
<path d="M175.5 99.0C177.8 99.0 180.2 105.2 182.3 107.4C184.3 109.7 185.7 110.8 187.5 112.4C189.4 114.0 191.5 115.6 193.3 117.2C195.0 118.8 196.3 120.4 198.1 122.0C199.9 123.7 202.3 125.4 204.1 127.1C205.9 128.7 207.6 130.3 208.9 131.9C210.1 133.5 210.9 135.2 211.7 136.9C212.5 138.5 213.1 140.0 213.5 141.7C213.8 143.3 213.9 145.0 214.0 146.7C214.0 148.3 213.8 150.0 213.7 151.6C213.6 153.2 213.6 154.6 213.3 156.3C213.0 157.9 212.4 159.7 211.9 161.3C211.5 163.0 210.8 164.5 210.7 166.1C210.5 167.7 210.9 169.5 211.0 171.2C211.2 172.8 211.5 174.2 211.6 175.9C211.8 177.5 212.0 179.3 212.0 180.9C212.0 182.5 211.9 184.0 211.8 185.7C211.7 187.3 211.5 189.0 211.3 190.7C211.1 192.4 211.0 194.0 210.6 195.6C210.3 197.2 209.7 198.8 209.1 200.4C208.5 202.0 208.1 203.6 207.1 205.3C206.1 206.9 204.7 208.5 203.3 210.1C201.9 211.7 202.5 213.0 198.6 214.9C194.7 216.7 186.3 221.0 180.0 221.0C173.7 221.0 165.5 216.7 161.1 214.9C156.6 213.1 155.5 211.8 153.3 210.2C151.1 208.5 149.4 206.8 148.0 205.2C146.6 203.5 145.7 201.9 144.8 200.3C144.0 198.7 143.8 197.3 143.1 195.6C142.4 193.9 141.2 192.1 140.8 190.4C140.3 188.7 140.1 187.2 140.1 185.5C140.1 183.9 140.7 182.2 140.7 180.6C140.8 179.0 140.5 177.5 140.4 175.9C140.4 174.3 140.4 172.7 140.3 171.0C140.3 169.4 140.3 167.7 140.1 166.0C140.0 164.4 139.7 163.0 139.2 161.4C138.7 159.7 137.6 157.8 137.1 156.2C136.6 154.5 136.6 153.2 136.3 151.6C136.0 150.0 135.4 148.3 135.3 146.7C135.2 145.1 135.5 143.5 135.8 141.8C136.1 140.2 136.5 138.3 137.1 136.7C137.7 135.1 138.2 133.6 139.3 132.0C140.3 130.5 141.7 128.8 143.4 127.2C145.2 125.5 147.9 123.7 149.9 122.1C152.0 120.5 153.7 119.1 155.8 117.4C157.8 115.8 160.1 114.1 162.3 112.4C164.5 110.7 166.5 109.7 168.7 107.4C170.9 105.2 173.2 99.0 175.5 99.0Z"/>
<path d="M202.2 37.4C202.1 39.7 201.0 42.1 199.8 44.2C198.5 46.3 197.0 48.4 194.6 50.0C192.3 51.7 188.8 53.3 185.7 54.3C182.5 55.2 179.0 55.6 175.8 55.6C172.5 55.6 169.1 55.1 166.2 54.3C163.2 53.4 160.2 51.9 157.9 50.3C155.6 48.6 153.4 46.3 152.2 44.2C150.9 42.1 150.2 40.0 150.2 37.7C150.2 35.5 150.8 32.7 152.1 30.7C153.4 28.6 155.5 27.0 157.8 25.4C160.0 23.9 162.7 22.1 165.8 21.2C168.8 20.4 172.7 20.2 176.0 20.2C179.4 20.2 182.8 20.3 185.8 21.2C188.8 22.0 191.8 23.6 194.2 25.3C196.6 26.9 198.9 28.8 200.2 30.9C201.5 32.9 202.2 35.2 202.2 37.4Z"/>
<path d="M175.5 107.5C177.4 107.5 179.4 111.2 181.3 113.0C183.2 114.7 185.0 116.4 186.8 118.0C188.5 119.7 190.1 121.4 191.9 123.0C193.6 124.7 195.8 126.2 197.3 127.9C198.9 129.5 200.0 131.3 201.2 132.9C202.3 134.5 203.3 136.1 204.1 137.8C204.9 139.4 205.4 141.1 205.7 142.8C206.1 144.4 206.2 146.0 206.2 147.6C206.2 149.3 206.0 151.1 205.8 152.7C205.6 154.4 205.4 155.8 204.9 157.5C204.5 159.1 203.4 160.9 203.0 162.6C202.6 164.3 202.6 166.0 202.7 167.6C202.7 169.2 203.3 170.7 203.5 172.3C203.8 173.9 203.8 175.6 204.1 177.3C204.4 179.0 205.0 180.7 205.3 182.4C205.7 184.0 206.2 185.7 206.2 187.4C206.1 189.0 205.5 190.7 205.1 192.3C204.7 193.9 204.2 195.5 203.6 197.1C203.0 198.7 202.6 200.3 201.6 202.0C200.7 203.6 199.8 205.5 198.1 207.2C196.5 208.8 194.9 210.3 191.9 212.0C188.9 213.6 184.0 217.0 180.0 217.0C176.0 217.0 171.3 213.6 168.0 212.0C164.7 210.3 162.2 208.6 160.1 206.9C158.0 205.3 157.0 203.6 155.5 202.0C154.1 200.4 152.7 198.9 151.5 197.3C150.3 195.6 149.1 193.9 148.4 192.3C147.7 190.6 147.4 189.1 147.2 187.4C147.0 185.7 147.0 183.9 147.1 182.2C147.2 180.6 147.5 179.0 147.7 177.4C147.9 175.7 148.0 174.0 148.3 172.3C148.5 170.7 148.9 169.2 148.9 167.5C148.9 165.9 149.0 164.2 148.3 162.5C147.7 160.9 145.9 159.3 145.2 157.6C144.5 156.0 144.6 154.2 144.2 152.5C143.9 150.8 143.3 149.3 143.1 147.7C143.0 146.1 143.0 144.3 143.2 142.7C143.4 141.1 143.8 139.5 144.3 137.8C144.7 136.2 145.0 134.4 146.0 132.7C147.0 131.0 148.6 129.5 150.3 127.8C152.1 126.2 154.6 124.5 156.8 122.9C159.0 121.3 161.3 119.6 163.5 117.9C165.7 116.3 167.9 114.7 169.9 113.0C171.9 111.2 173.6 107.5 175.5 107.5Z"/>
<path d="M187.0 38.6C186.9 39.6 186.1 40.7 185.3 41.5C184.5 42.4 183.4 43.2 182.1 43.7C180.8 44.3 179.0 44.6 177.5 44.6C175.9 44.6 174.4 44.3 173.0 43.9C171.5 43.4 169.8 42.5 168.7 41.7C167.5 40.9 166.5 39.9 165.9 38.9C165.4 37.9 165.1 36.7 165.3 35.6C165.4 34.5 166.2 33.2 167.1 32.2C168.0 31.3 169.2 30.7 170.5 30.2C171.8 29.7 173.4 29.5 174.9 29.5C176.4 29.5 178.1 29.7 179.5 30.2C181.0 30.6 182.7 31.4 183.8 32.3C184.9 33.1 185.7 34.2 186.3 35.2C186.8 36.3 187.2 37.5 187.0 38.6Z"/>
<path d="M175.5 115.0C177.7 115.0 180.4 118.2 182.5 119.9C184.6 121.6 186.6 123.4 188.2 125.1C189.8 126.8 191.1 128.5 192.4 130.2C193.7 131.9 194.8 133.7 195.8 135.4C196.8 137.2 197.8 138.9 198.4 140.6C199.0 142.3 199.2 143.9 199.3 145.5C199.3 147.2 199.0 148.9 198.9 150.6C198.7 152.3 199.0 154.2 198.5 155.9C198.0 157.6 196.5 159.1 195.9 160.8C195.2 162.6 194.5 164.4 194.5 166.1C194.4 167.9 195.2 169.6 195.6 171.3C196.1 172.9 196.5 174.5 197.1 176.2C197.7 177.9 198.7 179.6 199.2 181.3C199.8 183.0 200.5 184.8 200.5 186.5C200.5 188.3 199.8 189.9 199.4 191.6C198.9 193.3 198.5 194.9 197.7 196.6C197.0 198.4 196.2 200.3 195.0 202.0C193.8 203.7 192.8 205.5 190.3 207.0C187.8 208.5 183.3 211.0 180.0 211.0C176.7 211.0 173.0 208.4 170.2 206.9C167.5 205.3 165.4 203.5 163.6 201.8C161.8 200.2 160.8 198.4 159.5 196.7C158.2 195.0 156.7 193.3 155.8 191.7C154.8 190.0 153.8 188.3 153.5 186.6C153.3 184.9 153.9 183.0 154.2 181.3C154.6 179.6 155.2 178.0 155.5 176.3C155.9 174.6 156.3 172.9 156.5 171.2C156.7 169.5 157.0 167.9 156.9 166.1C156.8 164.4 156.3 162.6 155.6 160.8C154.9 159.1 153.6 157.4 152.9 155.7C152.1 154.0 151.5 152.5 151.1 150.8C150.8 149.1 150.6 147.4 150.6 145.6C150.6 143.9 150.7 142.1 151.1 140.4C151.5 138.7 152.2 137.1 152.9 135.4C153.6 133.7 154.1 131.9 155.4 130.2C156.8 128.5 158.8 126.7 161.1 125.0C163.4 123.3 166.9 121.7 169.3 120.1C171.7 118.4 173.3 115.0 175.5 115.0Z"/>
<path d="M175.5 124.0C178.0 124.0 181.0 126.6 183.0 128.1C185.0 129.6 186.4 131.3 187.7 132.9C188.9 134.5 189.8 136.0 190.6 137.7C191.3 139.3 192.0 141.0 192.4 142.6C192.7 144.3 192.6 145.9 192.6 147.5C192.6 149.1 192.5 150.7 192.3 152.3C192.1 153.9 192.1 155.7 191.5 157.3C190.8 158.9 189.2 160.4 188.6 162.1C187.9 163.7 187.4 165.3 187.6 166.9C187.8 168.5 188.9 170.1 189.7 171.7C190.4 173.3 191.3 175.0 192.0 176.6C192.8 178.2 193.7 179.9 194.2 181.5C194.7 183.2 195.0 184.8 195.0 186.4C195.0 188.0 194.5 189.7 194.1 191.3C193.7 192.9 193.4 194.5 192.4 196.1C191.4 197.7 190.2 199.4 188.1 201.0C186.0 202.5 182.7 205.5 180.0 205.5C177.3 205.5 174.3 202.5 171.9 200.9C169.5 199.3 167.3 197.7 165.8 196.1C164.2 194.5 163.4 192.9 162.5 191.3C161.6 189.7 160.7 187.9 160.3 186.3C159.9 184.7 160.1 183.2 160.2 181.6C160.3 180.0 160.6 178.3 160.8 176.7C161.1 175.0 161.3 173.4 161.7 171.8C162.1 170.2 163.1 168.6 163.3 166.9C163.4 165.3 163.0 163.7 162.4 162.1C161.7 160.4 160.1 158.8 159.4 157.2C158.6 155.6 158.2 154.0 157.9 152.4C157.6 150.8 157.6 149.1 157.6 147.5C157.6 145.9 157.6 144.2 157.8 142.6C158.0 141.0 158.3 139.3 158.8 137.7C159.3 136.1 159.3 134.6 160.9 133.0C162.4 131.3 165.6 129.5 168.0 128.0C170.5 126.5 173.0 124.0 175.5 124.0Z"/>
<path d="M187.2 147.4C187.2 149.2 187.0 151.1 186.2 152.7C185.5 154.3 184.2 156.1 182.9 157.2C181.6 158.4 180.0 159.2 178.4 159.6C176.8 160.0 174.7 160.0 173.0 159.6C171.4 159.1 170.0 158.2 168.7 157.1C167.5 155.9 166.2 154.3 165.4 152.6C164.7 151.0 164.2 148.9 164.2 147.1C164.2 145.2 164.7 143.2 165.4 141.5C166.1 139.8 167.2 138.2 168.4 137.0C169.7 135.9 171.5 135.1 173.1 134.7C174.7 134.3 176.5 134.1 178.2 134.5C179.8 134.9 181.6 136.0 182.9 137.2C184.3 138.3 185.5 139.8 186.2 141.5C186.9 143.2 187.2 145.5 187.2 147.4Z"/>
<path d="M187.8 181.7C188.6 184.0 189.0 186.7 189.2 189.0C189.4 191.2 189.3 193.2 188.9 195.1C188.4 197.0 187.7 198.9 186.7 200.3C185.6 201.6 184.3 202.8 182.8 203.3C181.3 203.8 179.4 203.8 177.7 203.4C176.0 203.1 174.5 202.3 172.9 201.1C171.4 199.9 169.7 198.3 168.4 196.4C167.1 194.6 166.0 192.2 165.2 190.0C164.3 187.7 163.4 185.2 163.2 182.9C163.0 180.7 163.5 178.5 164.0 176.6C164.4 174.6 165.0 172.5 166.1 171.1C167.1 169.8 168.6 169.2 170.1 168.7C171.6 168.1 173.3 167.6 175.0 167.9C176.6 168.2 178.2 169.2 179.8 170.4C181.3 171.6 183.1 173.2 184.4 175.1C185.7 177.0 187.0 179.4 187.8 181.7Z"/>
<path d="M186.0 182.8C186.7 184.8 187.6 187.0 187.9 189.0C188.2 191.1 188.1 193.3 187.8 195.2C187.4 197.0 186.7 198.8 185.9 200.0C185.0 201.2 184.0 201.7 182.7 202.1C181.4 202.5 179.7 202.9 178.3 202.5C176.9 202.1 175.6 201.0 174.2 199.9C172.8 198.8 171.1 197.5 169.9 195.8C168.7 194.1 167.6 191.7 166.8 189.6C166.1 187.6 165.6 185.4 165.4 183.3C165.3 181.2 165.5 178.8 165.9 177.1C166.2 175.3 166.8 173.9 167.6 172.7C168.5 171.6 169.6 170.5 170.9 170.1C172.1 169.6 173.7 169.5 175.0 169.9C176.4 170.2 177.8 171.0 179.2 172.2C180.6 173.3 182.2 175.0 183.3 176.8C184.5 178.6 185.2 180.8 186.0 182.8Z"/>
<path d="M172.5 93.5l2 1.6l-1.2 1.4l3.6 2.2l2.2 -.6M174 91l1.2 2.4"/>
</g>
</g>
<g clip-path="url(#cpl)">
<rect x="165" y="230" width="20" height="54" fill="#eeeefe" filter="url(#b1)"/>
<g filter="url(#b1)">
<path d="M168.5 230.2C169.7 230.0 172.0 233.5 173.5 235.2C175.0 236.9 176.3 238.6 177.5 240.4C178.7 242.1 179.7 243.9 180.5 245.7C181.4 247.6 182.1 249.4 182.7 251.3C183.2 253.2 183.6 255.1 183.9 257.0C184.1 259.0 184.2 261.0 184.1 263.0C184.0 265.0 183.8 267.0 183.4 269.1C183.0 271.2 182.5 273.3 181.8 275.4C181.1 277.6 180.4 281.7 179.3 282.0C178.1 282.2 176.0 278.6 174.7 276.9C173.3 275.2 172.0 273.5 170.9 271.7C169.8 269.9 168.8 268.1 168.0 266.3C167.2 264.5 166.5 262.6 166.0 260.7C165.4 258.8 165.0 256.9 164.8 255.0C164.5 253.0 164.4 251.1 164.5 249.1C164.5 247.1 164.7 245.0 165.0 243.0C165.3 240.9 165.7 238.8 166.3 236.7C166.9 234.6 167.4 230.5 168.5 230.2Z" fill="#d0d0fa"/>
<path d="M168.9 232.1C169.9 231.9 171.8 235.2 173.1 236.8C174.3 238.4 175.4 240.0 176.4 241.7C177.4 243.3 178.3 245.0 179.0 246.7C179.8 248.4 180.4 250.1 180.9 251.9C181.4 253.6 181.8 255.4 182.0 257.2C182.2 259.0 182.4 260.8 182.4 262.7C182.3 264.5 182.2 266.4 181.9 268.3C181.7 270.2 181.3 272.2 180.8 274.1C180.3 276.1 179.8 279.9 178.9 280.1C177.9 280.3 176.2 276.9 175.0 275.3C173.8 273.7 172.8 272.1 171.9 270.4C170.9 268.8 170.1 267.1 169.4 265.4C168.7 263.7 168.1 261.9 167.6 260.2C167.1 258.4 166.7 256.7 166.5 254.9C166.2 253.1 166.1 251.2 166.1 249.4C166.0 247.5 166.1 245.7 166.3 243.8C166.5 241.9 166.9 240.0 167.3 238.0C167.7 236.1 168.0 232.3 168.9 232.1Z" fill="#b6b6f5"/>
<path d="M169.4 234.4C170.1 234.2 171.7 237.2 172.7 238.7C173.8 240.2 174.7 241.7 175.5 243.2C176.3 244.7 177.0 246.2 177.7 247.8C178.3 249.3 178.8 250.9 179.3 252.5C179.7 254.1 180.0 255.7 180.3 257.3C180.5 258.9 180.6 260.6 180.7 262.3C180.7 263.9 180.7 265.6 180.5 267.3C180.3 269.0 180.1 270.8 179.7 272.5C179.4 274.3 179.1 277.7 178.4 277.8C177.7 278.0 176.2 274.9 175.3 273.4C174.3 272.0 173.5 270.5 172.7 268.9C171.9 267.4 171.2 265.9 170.6 264.3C170.0 262.8 169.5 261.2 169.1 259.6C168.7 258.0 168.3 256.4 168.1 254.8C167.8 253.2 167.7 251.5 167.6 249.8C167.5 248.2 167.6 246.5 167.7 244.8C167.8 243.1 168.0 241.4 168.3 239.6C168.6 237.9 168.7 234.5 169.4 234.4Z" fill="#9c9cec"/>
<path d="M170.0 237.2C170.5 237.1 171.8 239.8 172.6 241.0C173.3 242.3 174.1 243.7 174.7 245.0C175.3 246.3 175.9 247.7 176.4 249.0C176.9 250.4 177.4 251.7 177.7 253.1C178.1 254.5 178.4 255.9 178.6 257.3C178.8 258.7 179.0 260.2 179.0 261.6C179.1 263.1 179.1 264.5 179.1 266.0C179.0 267.5 178.9 268.9 178.6 270.4C178.4 271.9 178.4 274.9 177.8 275.0C177.3 275.1 176.1 272.4 175.4 271.1C174.7 269.8 174.0 268.5 173.4 267.2C172.8 265.8 172.2 264.5 171.7 263.1C171.2 261.8 170.8 260.4 170.5 259.0C170.1 257.6 169.8 256.2 169.6 254.8C169.4 253.4 169.2 252.0 169.1 250.5C169.0 249.1 169.0 247.6 169.0 246.2C169.1 244.7 169.1 243.2 169.3 241.7C169.5 240.2 169.4 237.3 170.0 237.2Z" fill="#8181e0"/>
<path d="M170.9 241.4C171.2 241.3 172.1 243.4 172.6 244.5C173.1 245.5 173.6 246.5 174.1 247.6C174.5 248.6 174.9 249.6 175.3 250.7C175.6 251.8 176.0 252.8 176.2 253.9C176.5 255.0 176.7 256.1 176.9 257.2C177.1 258.3 177.2 259.4 177.3 260.5C177.4 261.6 177.4 262.7 177.5 263.9C177.5 265.0 177.4 266.2 177.3 267.3C177.2 268.5 177.3 270.7 176.9 270.8C176.6 270.9 175.8 268.8 175.3 267.7C174.8 266.7 174.3 265.7 173.9 264.6C173.5 263.6 173.1 262.5 172.7 261.4C172.4 260.4 172.1 259.3 171.8 258.2C171.6 257.2 171.3 256.1 171.1 255.0C171.0 253.9 170.8 252.8 170.7 251.7C170.6 250.5 170.5 249.4 170.5 248.3C170.5 247.2 170.5 246.0 170.6 244.9C170.6 243.7 170.5 241.5 170.9 241.4Z" fill="#6969d2"/>
</g>
<g fill="none" stroke="#34346a" stroke-width="0.55" stroke-opacity="0.85">
<path d="M168.5 230.2C169.7 230.0 172.0 233.5 173.5 235.2C175.0 236.9 176.3 238.6 177.5 240.4C178.7 242.1 179.7 243.9 180.5 245.7C181.4 247.6 182.1 249.4 182.7 251.3C183.2 253.2 183.6 255.1 183.9 257.0C184.1 259.0 184.2 261.0 184.1 263.0C184.0 265.0 183.8 267.0 183.4 269.1C183.0 271.2 182.5 273.3 181.8 275.4C181.1 277.6 180.4 281.7 179.3 282.0C178.1 282.2 176.0 278.6 174.7 276.9C173.3 275.2 172.0 273.5 170.9 271.7C169.8 269.9 168.8 268.1 168.0 266.3C167.2 264.5 166.5 262.6 166.0 260.7C165.4 258.8 165.0 256.9 164.8 255.0C164.5 253.0 164.4 251.1 164.5 249.1C164.5 247.1 164.7 245.0 165.0 243.0C165.3 240.9 165.7 238.8 166.3 236.7C166.9 234.6 167.4 230.5 168.5 230.2Z"/>
<path d="M168.9 232.1C169.9 231.9 171.8 235.2 173.1 236.8C174.3 238.4 175.4 240.0 176.4 241.7C177.4 243.3 178.3 245.0 179.0 246.7C179.8 248.4 180.4 250.1 180.9 251.9C181.4 253.6 181.8 255.4 182.0 257.2C182.2 259.0 182.4 260.8 182.4 262.7C182.3 264.5 182.2 266.4 181.9 268.3C181.7 270.2 181.3 272.2 180.8 274.1C180.3 276.1 179.8 279.9 178.9 280.1C177.9 280.3 176.2 276.9 175.0 275.3C173.8 273.7 172.8 272.1 171.9 270.4C170.9 268.8 170.1 267.1 169.4 265.4C168.7 263.7 168.1 261.9 167.6 260.2C167.1 258.4 166.7 256.7 166.5 254.9C166.2 253.1 166.1 251.2 166.1 249.4C166.0 247.5 166.1 245.7 166.3 243.8C166.5 241.9 166.9 240.0 167.3 238.0C167.7 236.1 168.0 232.3 168.9 232.1Z"/>
<path d="M169.4 234.4C170.1 234.2 171.7 237.2 172.7 238.7C173.8 240.2 174.7 241.7 175.5 243.2C176.3 244.7 177.0 246.2 177.7 247.8C178.3 249.3 178.8 250.9 179.3 252.5C179.7 254.1 180.0 255.7 180.3 257.3C180.5 258.9 180.6 260.6 180.7 262.3C180.7 263.9 180.7 265.6 180.5 267.3C180.3 269.0 180.1 270.8 179.7 272.5C179.4 274.3 179.1 277.7 178.4 277.8C177.7 278.0 176.2 274.9 175.3 273.4C174.3 272.0 173.5 270.5 172.7 268.9C171.9 267.4 171.2 265.9 170.6 264.3C170.0 262.8 169.5 261.2 169.1 259.6C168.7 258.0 168.3 256.4 168.1 254.8C167.8 253.2 167.7 251.5 167.6 249.8C167.5 248.2 167.6 246.5 167.7 244.8C167.8 243.1 168.0 241.4 168.3 239.6C168.6 237.9 168.7 234.5 169.4 234.4Z"/>
<path d="M170.0 237.2C170.5 237.1 171.8 239.8 172.6 241.0C173.3 242.3 174.1 243.7 174.7 245.0C175.3 246.3 175.9 247.7 176.4 249.0C176.9 250.4 177.4 251.7 177.7 253.1C178.1 254.5 178.4 255.9 178.6 257.3C178.8 258.7 179.0 260.2 179.0 261.6C179.1 263.1 179.1 264.5 179.1 266.0C179.0 267.5 178.9 268.9 178.6 270.4C178.4 271.9 178.4 274.9 177.8 275.0C177.3 275.1 176.1 272.4 175.4 271.1C174.7 269.8 174.0 268.5 173.4 267.2C172.8 265.8 172.2 264.5 171.7 263.1C171.2 261.8 170.8 260.4 170.5 259.0C170.1 257.6 169.8 256.2 169.6 254.8C169.4 253.4 169.2 252.0 169.1 250.5C169.0 249.1 169.0 247.6 169.0 246.2C169.1 244.7 169.1 243.2 169.3 241.7C169.5 240.2 169.4 237.3 170.0 237.2Z"/>
<path d="M170.9 241.4C171.2 241.3 172.1 243.4 172.6 244.5C173.1 245.5 173.6 246.5 174.1 247.6C174.5 248.6 174.9 249.6 175.3 250.7C175.6 251.8 176.0 252.8 176.2 253.9C176.5 255.0 176.7 256.1 176.9 257.2C177.1 258.3 177.2 259.4 177.3 260.5C177.4 261.6 177.4 262.7 177.5 263.9C177.5 265.0 177.4 266.2 177.3 267.3C177.2 268.5 177.3 270.7 176.9 270.8C176.6 270.9 175.8 268.8 175.3 267.7C174.8 266.7 174.3 265.7 173.9 264.6C173.5 263.6 173.1 262.5 172.7 261.4C172.4 260.4 172.1 259.3 171.8 258.2C171.6 257.2 171.3 256.1 171.1 255.0C171.0 253.9 170.8 252.8 170.7 251.7C170.6 250.5 170.5 249.4 170.5 248.3C170.5 247.2 170.5 246.0 170.6 244.9C170.6 243.7 170.5 241.5 170.9 241.4Z"/>
</g>
</g>
<line x1="175.5" y1="46.3" x2="175.5" y2="259" stroke="#0a0a2a" stroke-width="1.2"/>
<circle cx="175.5" cy="46.3" r="3.3" fill="none" stroke="#e8101e" stroke-width="1.9"/>
<g stroke="#35e258" stroke-width="1.15" stroke-linecap="round"><line x1="170.4" y1="36.8" x2="180.6" y2="36.8"/><line x1="172.4" y1="33.7" x2="178.6" y2="39.9"/><line x1="175.5" y1="32.2" x2="175.5" y2="41.4"/><line x1="178.6" y1="33.7" x2="172.4" y2="39.9"/></g><circle cx="175.5" cy="36.8" r="2.6" fill="#1fe340"/>
<circle cx="175.5" cy="145.2" r="3.6" fill="none" stroke="#e8101e" stroke-width="1.8"/>
<g stroke="#35e258" stroke-width="1.15" stroke-linecap="round"><line x1="170.4" y1="145.2" x2="180.6" y2="145.2"/><line x1="172.4" y1="142.1" x2="178.6" y2="148.3"/><line x1="175.5" y1="140.6" x2="175.5" y2="149.8"/><line x1="178.6" y1="142.1" x2="172.4" y2="148.3"/></g><circle cx="175.5" cy="145.2" r="2.6" fill="#1fe340"/>
<path d="M171.4 190.2A4.2 4.2 0 0 0 179.6 190.2" fill="none" stroke="#e8101e" stroke-width="2" stroke-linecap="round"/>
<g stroke="#35e258" stroke-width="1.15" stroke-linecap="round"><line x1="170.4" y1="185.0" x2="180.6" y2="185.0"/><line x1="172.4" y1="181.9" x2="178.6" y2="188.1"/><line x1="175.5" y1="180.4" x2="175.5" y2="189.6"/><line x1="178.6" y1="181.9" x2="172.4" y2="188.1"/></g><circle cx="175.5" cy="185.0" r="2.6" fill="#1fe340"/>
<circle cx="175.4" cy="259.1" r="3.6" fill="none" stroke="#e8101e" stroke-width="1.8"/>
<g stroke="#35e258" stroke-width="1.15" stroke-linecap="round"><line x1="170.3" y1="259.1" x2="180.5" y2="259.1"/><line x1="172.3" y1="256.0" x2="178.5" y2="262.2"/><line x1="175.4" y1="254.5" x2="175.4" y2="263.7"/><line x1="178.5" y1="256.0" x2="172.3" y2="262.2"/></g><circle cx="175.4" cy="259.1" r="2.6" fill="#1fe340"/>
<g stroke="#111" stroke-width="1.3" fill="none" stroke-linecap="butt">
<path d="M69.2 4.2V287.4M68.5 286.8H281.5M68.5 4.9H282.5M281.8 4.9V72.4"/>
<line x1="69.2" y1="13.7" x2="76.8" y2="13.7"/>
<line x1="69.2" y1="58.6" x2="76.8" y2="58.6"/>
<line x1="69.2" y1="104.3" x2="76.8" y2="104.3"/>
<line x1="69.2" y1="150.4" x2="76.8" y2="150.4"/>
<line x1="69.2" y1="195.6" x2="76.8" y2="195.6"/>
<line x1="69.2" y1="251.5" x2="76.8" y2="251.5"/>
<line x1="69.2" y1="36.3" x2="73.4" y2="36.3"/>
<line x1="69.2" y1="82.2" x2="73.4" y2="82.2"/>
<line x1="69.2" y1="127.8" x2="73.4" y2="127.8"/>
<line x1="69.2" y1="173.4" x2="73.4" y2="173.4"/>
<line x1="69.2" y1="273.6" x2="73.4" y2="273.6"/>
<line x1="281.8" y1="13.8" x2="274" y2="13.8"/>
<line x1="281.8" y1="59.4" x2="274" y2="59.4"/>
<line x1="281.8" y1="36.2" x2="277.2" y2="36.2"/>
<line x1="104.7" y1="286.8" x2="104.7" y2="279.2"/>
<line x1="104.7" y1="4.9" x2="104.7" y2="12.4"/>
<line x1="175.2" y1="286.8" x2="175.2" y2="279.2"/>
<line x1="175.2" y1="4.9" x2="175.2" y2="12.4"/>
<line x1="246.2" y1="286.8" x2="246.2" y2="279.2"/>
<line x1="246.2" y1="4.9" x2="246.2" y2="12.4"/>
<line x1="139.8" y1="286.8" x2="139.8" y2="282.4"/>
<line x1="139.8" y1="4.9" x2="139.8" y2="9.2"/>
<line x1="210.7" y1="286.8" x2="210.7" y2="282.4"/>
<line x1="210.7" y1="4.9" x2="210.7" y2="9.2"/>
<path d="M61.4 224.8L77 221.2M61.4 229.2L77 225.6" stroke-width="1.2"/>
</g>
<g font-family="'Liberation Serif',serif" fill="#111" font-size="15.2">
<rect x="70.8" y="8" width="63.5" height="21.5" fill="#fff"/>
<rect x="70.8" y="29" width="38" height="32" fill="#fff"/>
<text x="73" y="25.1">Sample D</text>
<text x="73" y="43.7">(002)</text>
<text x="233.4" y="40">AlN</text>
<rect x="70.8" y="100.5" width="78" height="20.5" fill="#fff"/>
<text x="72.8" y="114">Al<tspan font-size="9" dy="6">0.32</tspan><tspan dy="-6">Ga</tspan><tspan font-size="9" dy="6">0.68</tspan><tspan dy="-6">N</tspan></text>
<rect x="88" y="176" width="34.9" height="21.9" fill="#fff"/>
<text x="91.4" y="192.2">GaN</text>
<text x="107.8" y="262.9">Si</text>
</g>
<g font-family="'Liberation Serif',serif" fill="#111" font-size="24" text-anchor="end">
<text transform="translate(68.5,21.8) scale(0.985,1.09)">0.41</text>
<text transform="translate(68.5,66.8) scale(0.985,1.09)">0.40</text>
<text transform="translate(68.5,112.6) scale(0.985,1.09)">0.40</text>
<text transform="translate(68.5,158.7) scale(0.985,1.09)">0.39</text>
<text transform="translate(68.5,203.9) scale(0.985,1.09)">0.39</text>
<text transform="translate(68.5,259.8) scale(0.985,1.09)">0.32</text>
</g>
<g font-family="'Liberation Serif',serif" fill="#111" font-size="23.6" text-anchor="middle">
<text transform="translate(99.3,307) scale(0.985,1.035)">-0.01</text>
<text transform="translate(171.5,307) scale(0.985,1.035)">0.00</text>
<text transform="translate(241.29999999999998,307) scale(0.985,1.035)">0.01</text>
</g>
<g font-family="'Liberation Serif',serif" fill="#111" font-size="24">
<text x="161.6" y="328.6" font-size="23.4">q<tspan font-size="12.8" dy="8">x</tspan><tspan dy="-7" dx="6.2" font-size="25.4">[</tspan><tspan dy="-1" dx="0.3" font-size="21.6">Å</tspan><tspan dy="1" dx="0.6" font-size="25.4">]</tspan></text>
<text transform="translate(20.6,176.2) rotate(-90)" font-size="23.4">q<tspan font-size="12.8" dy="8">z</tspan><tspan dy="-7" dx="6.2" font-size="25.4">[</tspan><tspan dy="-1" dx="0.3" font-size="21.6">Å</tspan><tspan dy="1" dx="0.6" font-size="25.4">]</tspan></text>
</g>
<rect x="222.5" y="72.6" width="225.5" height="211" fill="#fff"/>
<rect x="224.6" y="95.3" width="145" height="5.1" fill="#217d1f"/>
<rect x="224.6" y="100.4" width="145" height="66.9" fill="#ffff00"/>
<rect x="224.6" y="167.3" width="145" height="39.3" fill="#2a7d0e"/>
<rect x="224.6" y="206.6" width="145" height="25.2" fill="#00aaff"/>
<rect x="224.6" y="231.8" width="145" height="50.7" fill="#c0c0c0"/>
<path d="M224.6 282.5V95.3M369.6 95.3V282.5" stroke="#555" stroke-width="0.5" fill="none"/>
<g stroke="#3a3a3a" stroke-width="0.75" fill="none">
<path d="M369.6 95.3H448M369.6 100.3H425.8M369.6 167.3H407.2M369.6 206.6H388.5M369.6 282.5H448"/>
<path d="M388.5 206.6V282.5M425.8 100.3V282.5M444.7 95.3V282.5"/>
<path d="M407.2 167.3V282.5" stroke="#999"/>
</g>
<path d="M388.5 206.6l-2.8 9.6h5.6zM388.5 282.5l-2.8 -9.6h5.6z" fill="#000"/>
<path d="M407.2 167.3l-2.8 9.6h5.6zM407.2 282.5l-2.8 -9.6h5.6z" fill="#000"/>
<path d="M425.8 100.3l-2.8 9.6h5.6zM425.8 282.5l-2.8 -9.6h5.6z" fill="#000"/>
<path d="M444.7 95.3l-2.8 9.6h5.6zM444.7 282.5l-2.8 -9.6h5.6z" fill="#000"/>
<g font-family="'Liberation Serif',serif" fill="#111" font-size="13.7">
<text transform="translate(387.0,272.2) rotate(-90)">Sample A</text>
<text transform="translate(405.7,272.2) rotate(-90)">Sample B</text>
<text transform="translate(424.4,272.2) rotate(-90)">Sample C</text>
<text transform="translate(443.3,272.2) rotate(-90)">Sample D</text>
</g>
<g font-family="'Liberation Serif',serif" fill="#111" font-size="15.4">
<text x="230" y="87.7">Al<tspan font-size="8.6" dy="6">0.17</tspan><tspan dy="-6">Ga</tspan><tspan font-size="8.6" dy="6">0.83</tspan><tspan dy="-6">N, 20 nm</tspan></text>
<text x="228" y="139.2">GaN, 1.13 μm</text>
<text x="228" y="192.8">Al<tspan font-size="8.6" dy="6">0.32</tspan><tspan dy="-6">Ga</tspan><tspan font-size="8.6" dy="6">0.68</tspan><tspan dy="-6">N, 150 nm</tspan></text>
<text x="227.5" y="224.9">AlN, 150 nm</text>
<text x="225.6" y="255.7">Si(111), 675 μm</text>
</g>
</svg>
</body></html>
